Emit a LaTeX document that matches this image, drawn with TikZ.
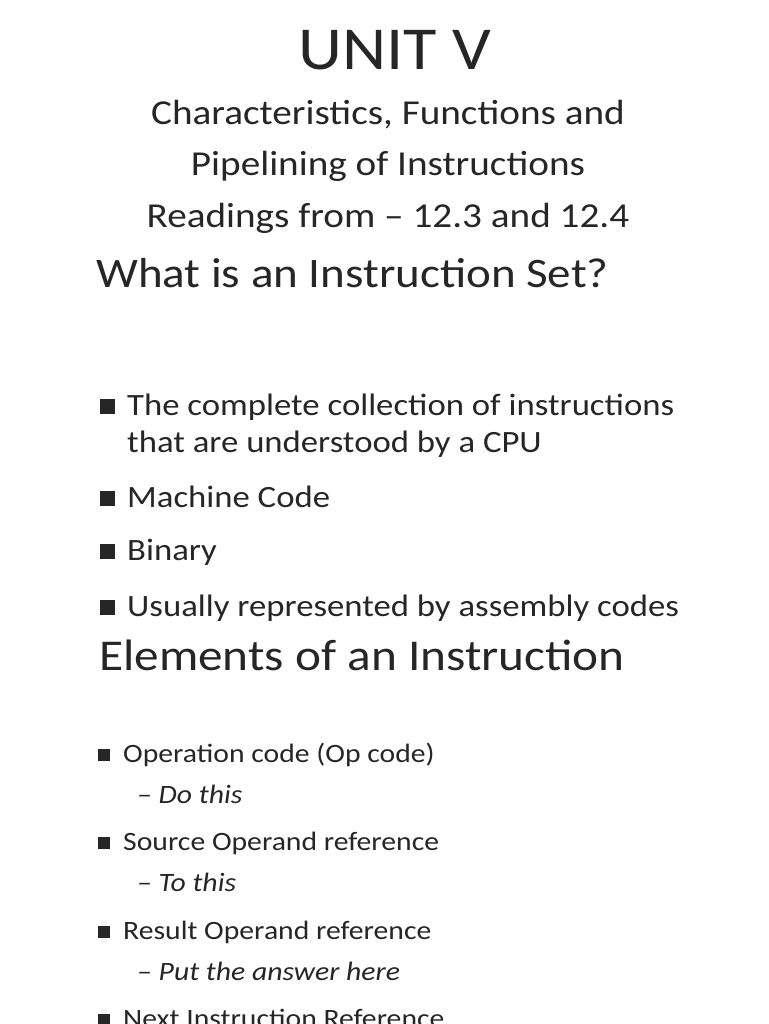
\documentclass[tikz,border=0pt]{standalone}
\usepackage{fontspec}
\setmainfont[FakeStretch=1.12]{Carlito}
\begin{document}
\begin{tikzpicture}[x=1pt,y=1pt,
  txt/.style={anchor=base west,inner sep=0pt,text=black!85},
  ctr/.style={anchor=base,inner sep=0pt,text=black!85},
  sq/.style={fill=black!85,minimum size=#1,inner sep=0pt,anchor=south west}]
\useasboundingbox (0,0) rectangle (768,-1024);
\clip (0,0) rectangle (768,-1024);
\node[ctr,font=\fontsize{61}{61}\selectfont] (t) at (395,-70) {UNIT V};
\node[ctr,font=\fontsize{35}{35}\selectfont] (s1) at (388,-125) {Characteristics, Functions and};
\node[ctr,font=\fontsize{35}{35}\selectfont] (s2) at (388,-176) {Pipelining of Instructions};
\node[ctr,font=\fontsize{35}{35}\selectfont] (s3) at (388,-228) {Readings from -- 12.3 and 12.4};
\node[txt,font=\fontsize{42}{42}\selectfont] (h1) at (96,-287) {What is an Instruction Set?};
\foreach \y/\x/\t [count=\i] in {415/127/The complete collection of instructions,507/127/Machine Code,560/127/Binary,616/127/Usually represented by assembly codes}{
  \node[txt,font=\fontsize{31}{31}\selectfont] (b\i) at (\x,-\y) {\t};
  \node[sq=15pt] (q\i) at (\x-27,-\y+1) {};
}
\node[txt,font=\fontsize{31}{31}\selectfont] (b1b) at (127,-452) {that are understood by a CPU};
\node[txt,font=\fontsize{44}{44}\selectfont] (h2) at (99,-670) {Elements of an Instruction};
\foreach \y/\t [count=\i] in {762/Operation code (Op code),850/Source Operand reference,939/Result Operand reference,1027/Next Instruction Reference}{
  \node[txt,font=\fontsize{26.5}{26.5}\selectfont] (e\i) at (123,-\y) {\t};
  \node[sq=12pt] (r\i) at (98,-\y+1) {};
}
\foreach \y/\t [count=\i] in {803/Do this,891/To this,980/Put the answer here}{
  \node[txt,font=\fontsize{26.5}{26.5}\selectfont\itshape] (d\i) at (137,-\y) {-- \t};
}
\end{tikzpicture}
\end{document}
